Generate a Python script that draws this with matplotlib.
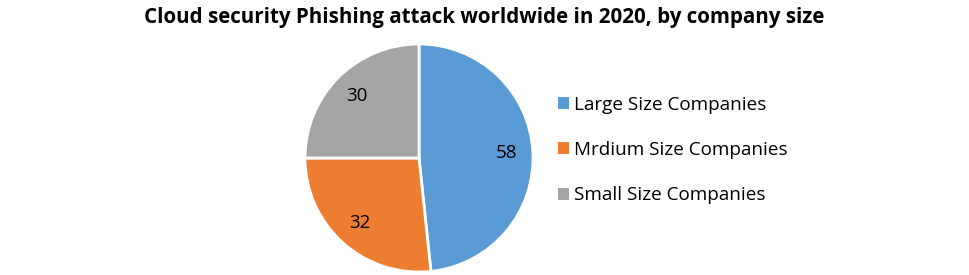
import matplotlib
matplotlib.use("Agg")
import matplotlib.pyplot as plt
from matplotlib.patches import Patch

categories = ["Large Size Companies", "Mrdium Size Companies", "Small Size Companies"]
values = [58, 32, 30]
colors = ["#5B9BD5", "#ED7D31", "#A5A5A5"]
title = "Cloud security Phishing attack worldwide in 2020, by company size"

W, H = 969, 275
fig = plt.figure(figsize=(W / 100, H / 100), dpi=100)
font = ["Open Sans", "DejaVu Sans"]

cx, cy, r = 419, 158, 114
ax = fig.add_axes([(cx - r) / W, (H - cy - r) / H, 2 * r / W, 2 * r / H])
wedges, texts = ax.pie(values, colors=colors, startangle=90, counterclock=False,
                       labels=[str(v) for v in values], labeldistance=0.77,
                       wedgeprops=dict(edgecolor="white", linewidth=2),
                       textprops=dict(fontsize=13.5, family=font, ha="center", va="center"))
ax.set_xlim(-1.0, 1.0)
ax.set_ylim(-1.0, 1.0)
ax.set_aspect("equal")

fig.text(0.5, 1 - 18 / H, title, ha="center", va="center", fontsize=14.8,
         fontweight="bold", family=font)

handles = [Patch(facecolor=c, edgecolor="none") for c in colors]
leg = fig.legend(handles, categories, loc="center left",
                 bbox_to_anchor=(541 / W, 1 - 150 / H), frameon=False,
                 handlelength=0.6, handleheight=0.6, handletextpad=0.25,
                 labelspacing=1.45, prop=dict(family=font, size=13.6))

fig.savefig("out.png", dpi=100)
